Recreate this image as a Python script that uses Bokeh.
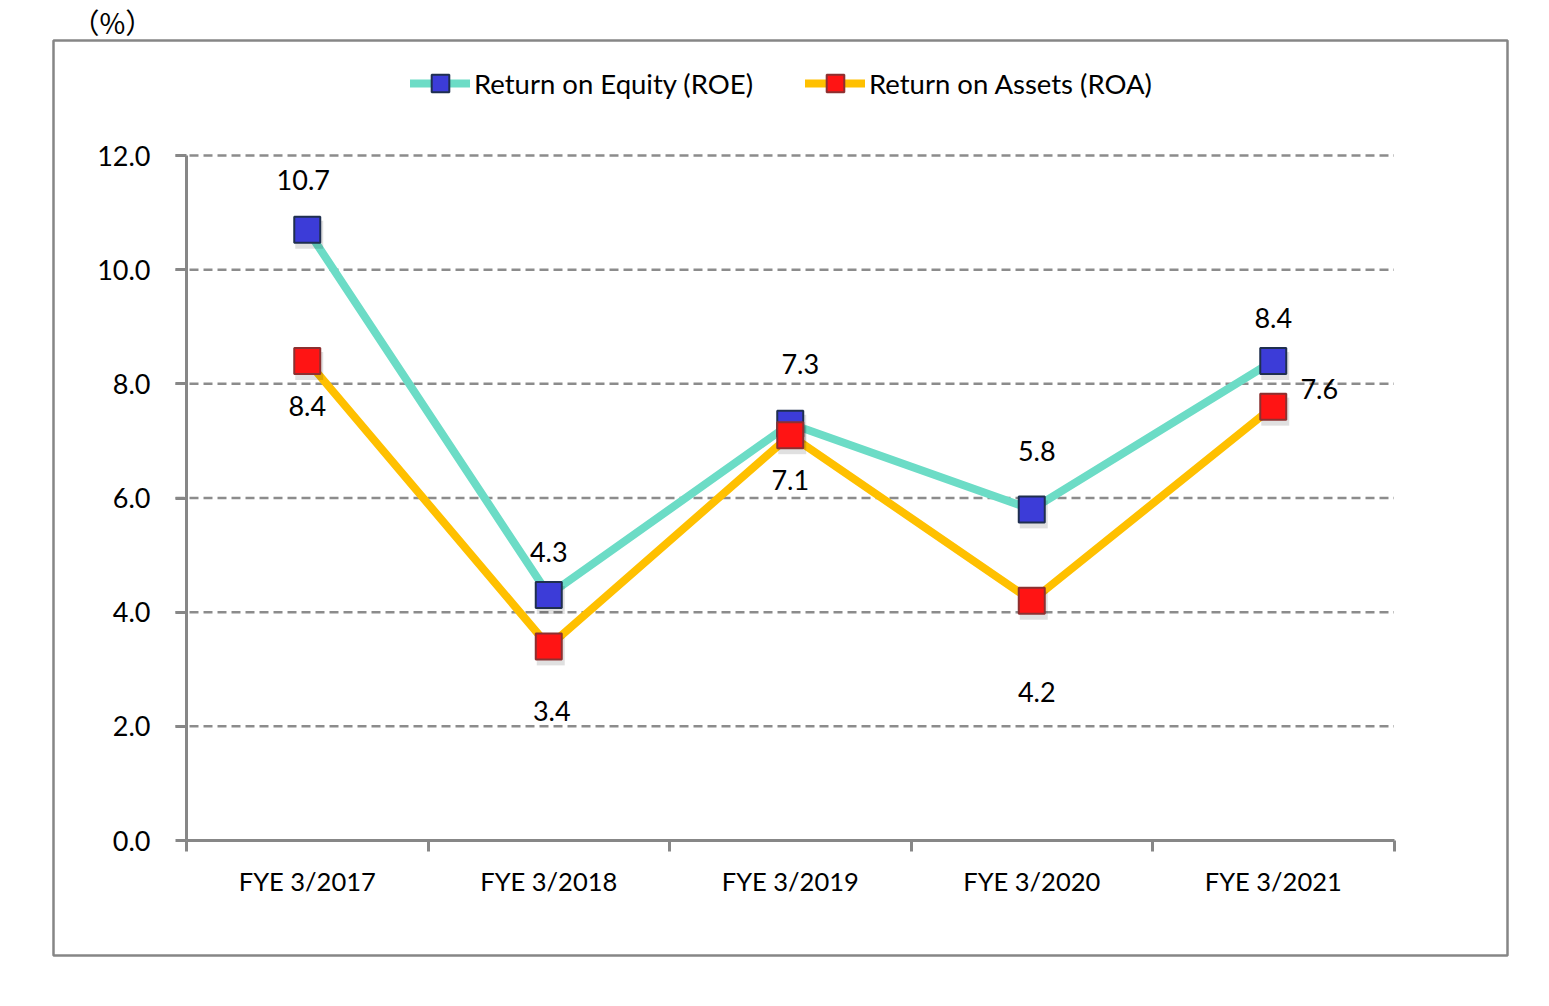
# ROE / ROA line chart, recreated with Bokeh
# Output: out.html

from bokeh.plotting import figure
from bokeh.models import (ColumnDataSource, Range1d, FixedTicker, LinearAxis,
                          PrintfTickFormatter, Legend, LegendItem, BoxAnnotation)
from bokeh.core.properties import value
from bokeh.embed import file_html
from bokeh.resources import INLINE

# data
years = ['FYE 3/2017', 'FYE 3/2018', 'FYE 3/2019', 'FYE 3/2020', 'FYE 3/2021']
roe = [10.7, 4.3, 7.3, 5.8, 8.4]
roa = [8.4, 3.4, 7.1, 4.2, 7.6]
y_ticks = [0, 2, 4, 6, 8, 10, 12]

# label offsets in pixels (placed by hand like the original)
roe_dx = [-4, 0, 10, 5, 0]
roe_dy = [50, 43, 60, 58, 43]
roa_dx = [0, 3, 0, 5, 46]
roa_dy = [-45, -65, -45, -91, 18]

FONT = "Lato"
W, H = 1541, 998

# pixel -> data helpers (reference picture pixels)
X0_PX, X_STEP = 186.0, 241.5
Y0_PX, Y_STEP = 840.0, 685.0 / 12

def dx(px):
    return (px - X0_PX) / X_STEP

def dy(py):
    return (Y0_PX - py) / Y_STEP

xs = [i + 0.5 for i in range(len(years))]

p = figure(width=W, height=H, output_backend="svg", toolbar_location=None, tools="",
           x_range=Range1d(dx(0), dx(W)), y_range=Range1d(dy(H), dy(0)),
           x_axis_type=None, y_axis_type=None, min_border=0)
p.outline_line_color = None
p.xgrid.visible = False
p.ygrid.visible = False

# outer frame
p.add_layout(BoxAnnotation(left=dx(53), right=dx(1507), top=dy(40), bottom=dy(955),
                           fill_alpha=0, line_color="#868686", line_alpha=1, line_width=2.5))

# dashed grid lines
gy = y_ticks[1:]
p.segment(x0=[dx(175)] * len(gy), x1=[len(years)] * len(gy), y0=gy, y1=gy,
          line_color="#8c8c8c", line_width=2.5, line_dash="9 5")

# y axis
yax = LinearAxis(fixed_location=0, bounds=(0, 12), ticker=FixedTicker(ticks=y_ticks),
                 formatter=PrintfTickFormatter(format="%.1f"))
yax.axis_line_color = "#878787"
yax.axis_line_width = 3
yax.major_tick_line_color = "#878787"
yax.major_tick_line_width = 3
yax.major_tick_out = 11
yax.major_tick_in = 0
yax.minor_tick_line_color = None
yax.major_label_standoff = 25
yax.major_label_text_font = FONT
yax.major_label_text_font_size = "27px"
yax.major_label_text_color = "black"
p.add_layout(yax, "left")

# x axis (ticks at category boundaries)
bounds_ticks = list(range(len(years) + 1))
xax = LinearAxis(fixed_location=0, bounds=(0, len(years)),
                 ticker=FixedTicker(ticks=bounds_ticks),
                 major_label_overrides={t: "" for t in bounds_ticks})
xax.axis_line_color = "#878787"
xax.axis_line_width = 3
xax.major_tick_line_color = "#878787"
xax.major_tick_line_width = 3
xax.major_tick_out = 11
xax.major_tick_in = 0
xax.minor_tick_line_color = None
p.add_layout(xax, "below")

# category labels
p.text(x=xs, y=[0] * len(xs), text=years, y_offset=40, text_font=value(FONT),
       text_font_size="25.5px", text_align="center", text_baseline="middle", text_color="black")

# lines
roe_src = ColumnDataSource(dict(x=xs, y=roe))
roa_src = ColumnDataSource(dict(x=xs, y=roa))
l1 = p.line('x', 'y', source=roe_src, line_color="#6cdcc6", line_width=8,
            line_join="round", line_cap="round")
l2 = p.line('x', 'y', source=roa_src, line_color="#ffc000", line_width=8,
            line_join="round", line_cap="round")

# marker shadows (shifted 2px right, 5px down)
sh_x = [x + 2 / X_STEP for x in xs]
p.scatter(sh_x, [v - 5 / Y_STEP for v in roe], marker="square", size=28,
          fill_color="#000000", fill_alpha=0.12, line_color=None)
p.scatter(sh_x, [v - 5 / Y_STEP for v in roa], marker="square", size=28,
          fill_color="#000000", fill_alpha=0.12, line_color=None)

m1 = p.scatter('x', 'y', source=roe_src, marker="square", size=26,
               fill_color="#3c3cd8", line_color="#1f2f4f", line_width=2)
m2 = p.scatter('x', 'y', source=roa_src, marker="square", size=26,
               fill_color="#ff1414", line_color="#8c3030", line_width=2)

# data labels
p.text(x=xs, y=roe, text=[f"{v:.1f}" for v in roe], x_offset=roe_dx,
       y_offset=[-d for d in roe_dy], text_font=value(FONT), text_font_size="27px",
       text_align="center", text_baseline="middle", text_color="black")
p.text(x=xs, y=roa, text=[f"{v:.1f}" for v in roa], x_offset=roa_dx,
       y_offset=[-d for d in roa_dy], text_font=value(FONT), text_font_size="27px",
       text_align="center", text_baseline="middle", text_color="black")

# unit label
p.text(x=[dx(71)], y=[dy(21)], text=["（%）"], text_font=value("Noto Sans CJK JP"),
       text_font_size="28px", text_align="left", text_baseline="middle", text_color="black")

# legend
legend = Legend(items=[LegendItem(label="Return on Equity (ROE)", renderers=[l1, m1]),
                       LegendItem(label="Return on Assets (ROA)", renderers=[l2, m2])],
                orientation="horizontal", location=(410, H - 105),
                glyph_width=60, glyph_height=44, label_height=44, label_standoff=4,
                spacing=52, padding=0, margin=0, border_line_color=None,
                background_fill_alpha=0, label_text_font=FONT, label_text_font_size="27.5px",
                label_text_color="black", label_text_baseline="middle")
p.add_layout(legend, "center")

open("out.html", "w").write(file_html(p, INLINE))
